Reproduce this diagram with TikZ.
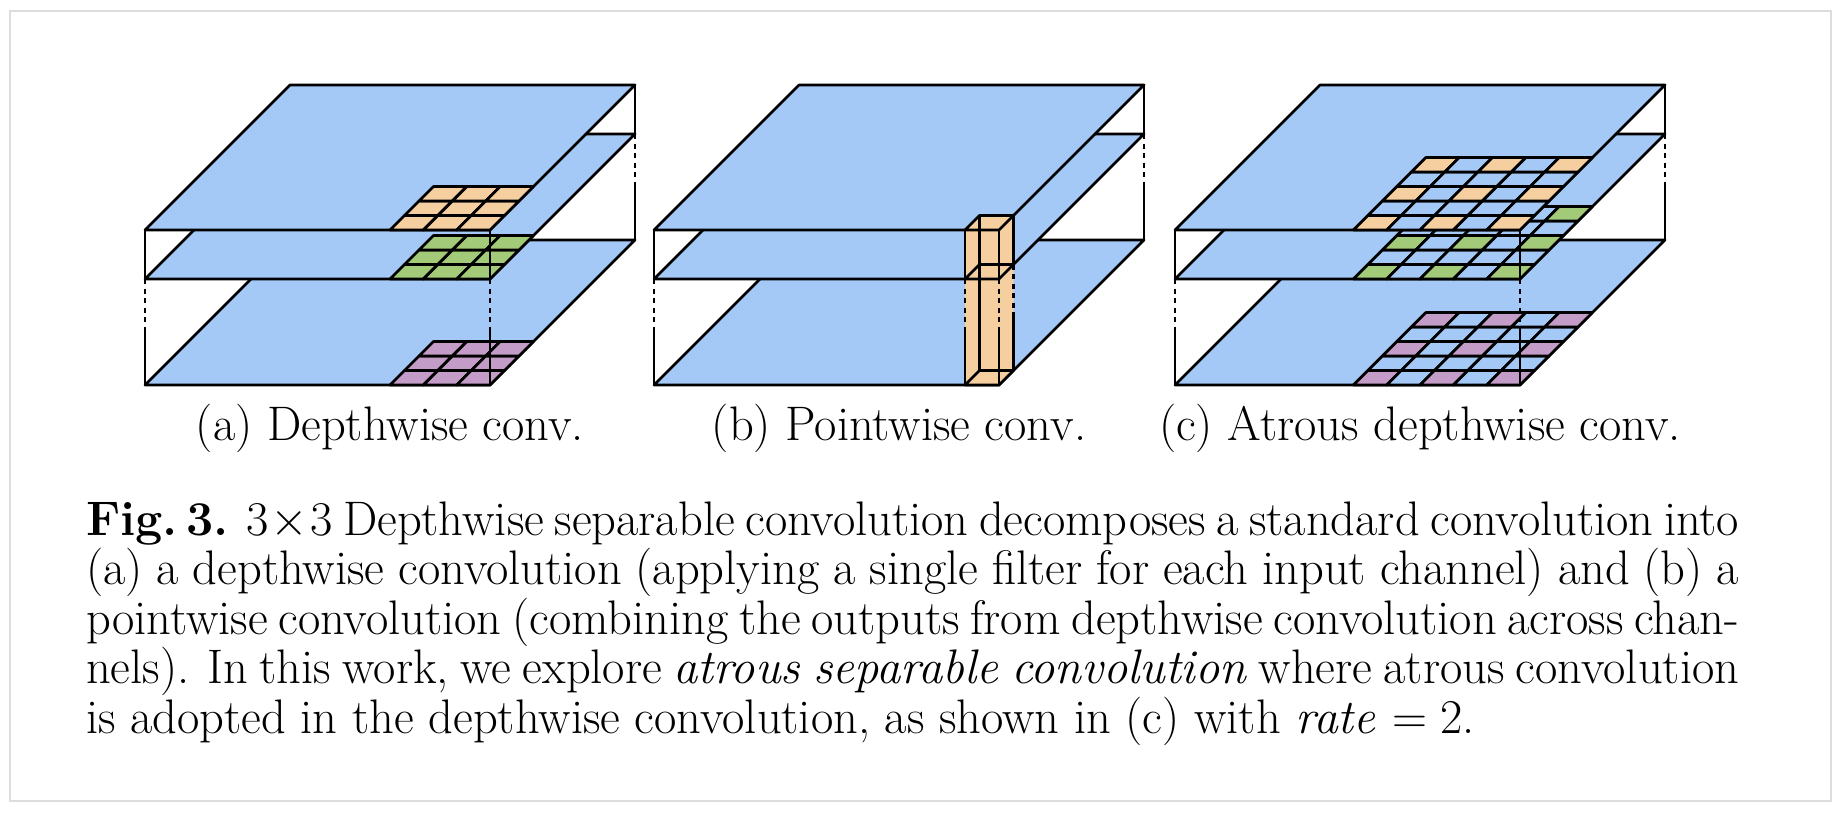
\RequirePackage{fix-cm}
\documentclass[tikz,border=0pt]{standalone}
\usepackage{tikz}
\usetikzlibrary{calc}
\definecolor{PlaneBlue}{HTML}{A5C9F7}
\definecolor{FiltOrange}{HTML}{F6CFA1}
\definecolor{FiltGreen}{HTML}{A3CA78}
\definecolor{FiltPurple}{HTML}{C49CC8}
\definecolor{FrameGray}{HTML}{DDDDDD}
\tikzset{
    edge/.style={line width=2.7pt, line join=round},
    plane/.style={edge, fill=PlaneBlue},
    hidden/.style={edge, dash pattern=on 5pt off 4.5pt},
    capfont/.style={font=\fontsize{48.5}{49.5}\selectfont, inner sep=0pt}
}
% plane of a layer: x of front-left corner, y of front edge
\newcommand{\layer}[2]{\filldraw[plane] (#1,#2) -- ++(345,0) -- ++(145,-145) -- ++(-345,0) -- cycle;}
% one filter cell: x0, y0, u, v, colour
\newcommand{\fcell}[5]{\filldraw[edge, fill=#5] ({#1+#3+#4},{#2-#4}) -- ++(33.33,0) -- ++(14.5,-14.5) -- ++(-33.33,0) -- cycle;}
% vertical edge through a gap: dashed upper half, solid lower half
\newcommand{\gapedge}[3]{\draw[hidden] (#1,#2) -- (#1,{#2+0.49*(#3-#2)}); \draw[edge] (#1,{#2+0.49*(#3-#2)}) -- (#1,#3);}
% 3x3 filter on a layer
\newcommand{\dwfilter}[3]{\foreach \i in {0,1,2} {\foreach \j in {0,1,2} {\fcell{#1}{#2}{245+33.33*\i}{14.5*\j}{#3}}}}
% 5x5 atrous grid on a layer
\newcommand{\atfilter}[3]{\foreach \i in {0,...,4} {\foreach \j in {0,...,4} {
    \pgfmathtruncatemacro{\odd}{mod(\i,2)+mod(\j,2)}
    \ifnum\odd=0 \fcell{#1}{#2}{178.33+33.33*\i}{14.5*\j}{#3}\else \fcell{#1}{#2}{178.33+33.33*\i}{14.5*\j}{PlaneBlue}\fi}}}

\begin{document}
\begin{tikzpicture}[x=1pt, y=-1pt]
    \useasboundingbox (0,0) rectangle (1842,812);
    \draw[FrameGray, line width=2pt] (10,11) rectangle (1831,801);

    % (a) depthwise
    \layer{145}{385} \dwfilter{145}{385}{FiltPurple}
    \gapedge{145}{279}{385} \gapedge{490}{279}{385} \gapedge{635}{134}{240}
    \layer{145}{279} \dwfilter{145}{279}{FiltGreen}
    \draw[edge] (145,230) -- (145,279) (490,230) -- (490,279) (635,85) -- (635,134);
    \layer{145}{230} \dwfilter{145}{230}{FiltOrange}

    % (b) pointwise
    \layer{654}{385}
    \gapedge{654}{279}{385} \gapedge{999}{279}{385} \gapedge{1144}{134}{240}
    \layer{654}{279}
    \draw[edge] (654,230) -- (654,279) (999,230) -- (999,279) (1144,85) -- (1144,134);
    \layer{654}{230}
    % 1x1 column
    \fill[FiltOrange] (965,230) -- (979.5,215.5) -- (1013.5,215.5) -- (1013.5,370.5) -- (999,385) -- (965,385) -- cycle;
    \foreach \y in {230,279,385}
        \draw[edge] (965,\y) -- (999,\y) -- ++(14.5,-14.5) -- ++(-34,0) -- cycle;
    \draw[edge] (979.5,215.5) -- (979.5,370.5);
    \draw[edge] (965,230) -- (965,279) (999,230) -- (999,279) (1013.5,215.5) -- (1013.5,264.5);
    \gapedge{965}{279}{385} \gapedge{999}{279}{385} \gapedge{1013.5}{264.5}{370.5}

    % (c) atrous depthwise
    \layer{1175}{385} \atfilter{1175}{385}{FiltPurple}
    \gapedge{1175}{279}{385} \gapedge{1520}{279}{385} \gapedge{1665}{134}{240}
    \layer{1175}{279} \atfilter{1175}{279}{FiltGreen}
    \draw[edge] (1175,230) -- (1175,279) (1520,230) -- (1520,279) (1665,85) -- (1665,134);
    \layer{1175}{230} \atfilter{1175}{230}{FiltOrange}

    % captions
    \node[capfont, anchor=base] (capA) at (390,440) {(a) Depthwise conv.};
    \node[capfont, anchor=base] (capB) at (899,440) {(b) Pointwise conv.};
    \node[capfont, anchor=base] (capC) at (1420,440) {(c) Atrous depthwise conv.};
    \node[capfont, anchor=base west, text width=1653pt, align=justify] (figcap) at (86,535)
        {\textbf{Fig.\,3.} $3\times3$ Depthwise separable convolution decomposes a standard convolution into\linebreak
        (a) a depthwise convolution (applying a single filter for each input channel) and (b) a\linebreak
        pointwise convolution (combining the outputs from depthwise convolution across chan-\linebreak
        nels). In this work, we explore \emph{atrous separable convolution} where atrous convolution\linebreak
        is adopted in the depthwise convolution, as shown in (c) with $\mathit{rate}=2$.};
\end{tikzpicture}
\end{document}
